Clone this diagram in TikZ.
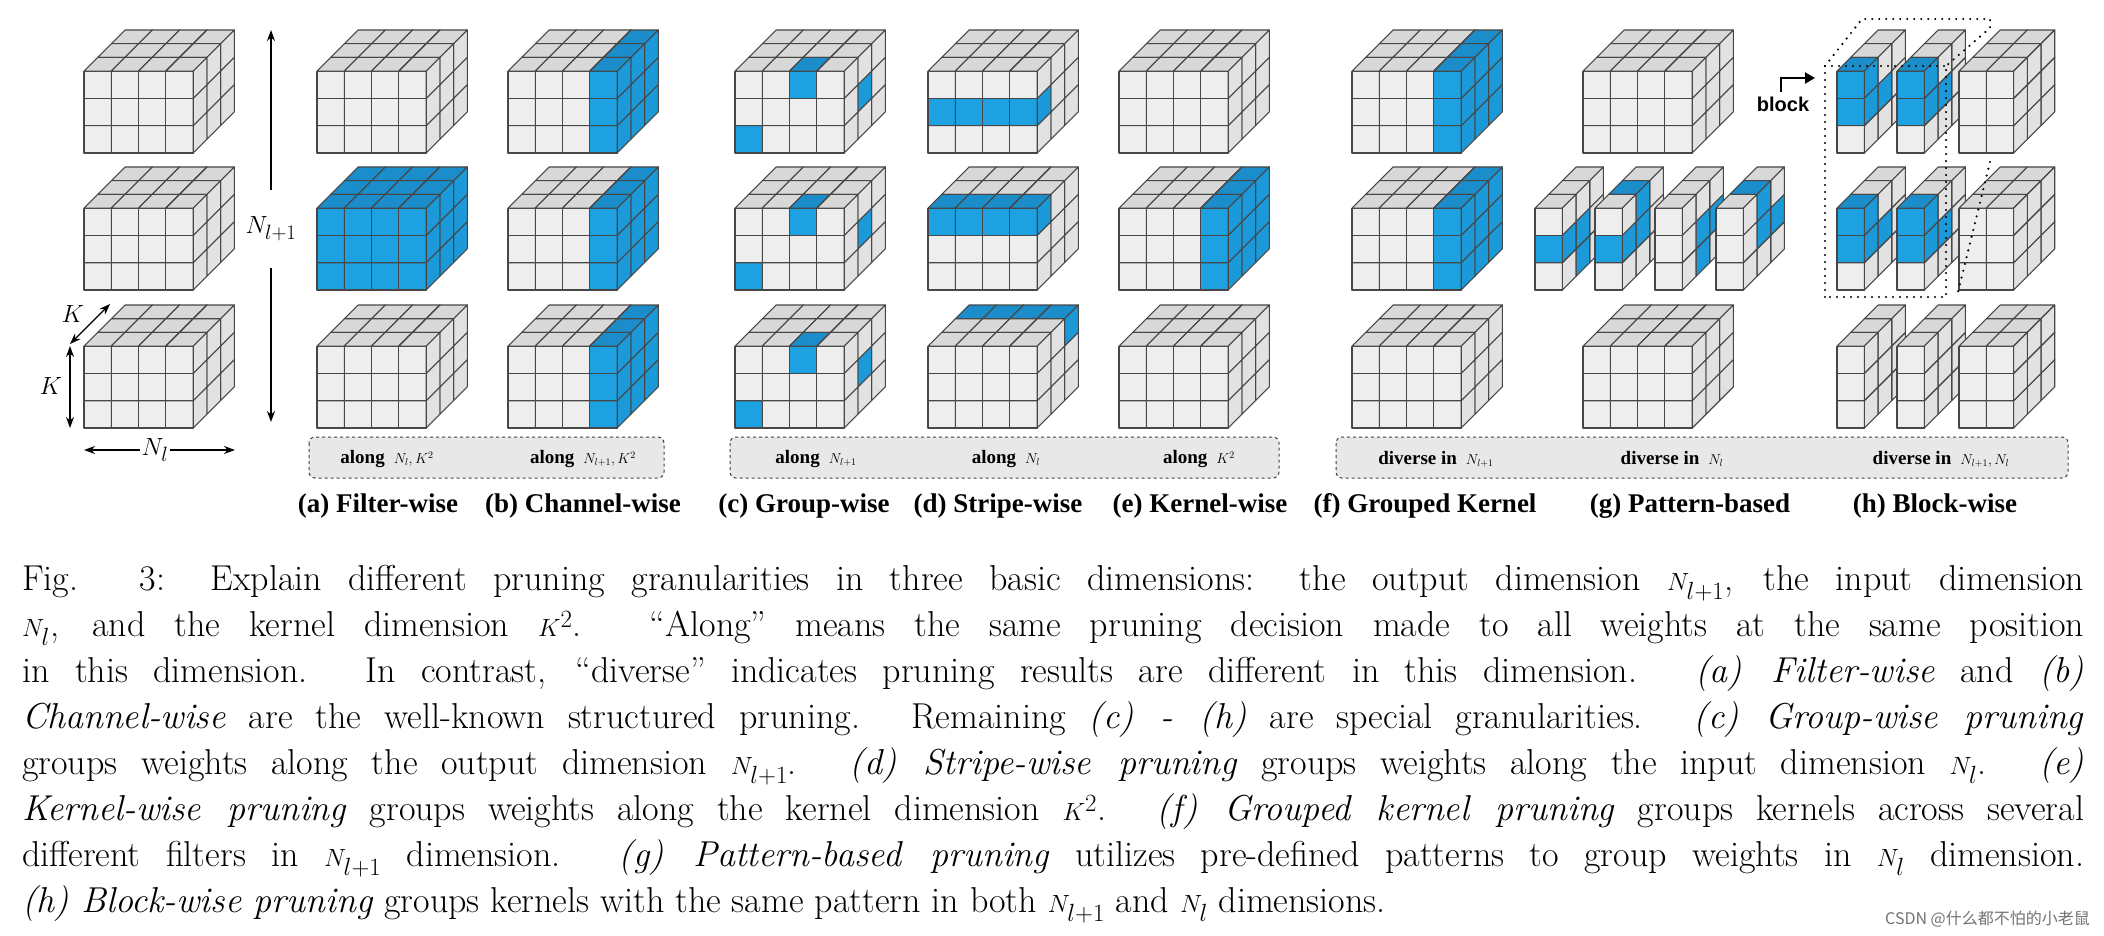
\documentclass[tikz,border=0pt]{standalone}
\usepackage{fontspec}
\usetikzlibrary{arrows.meta}
\newfontfamily\tms{Liberation Serif}
\newfontfamily\arl{Liberation Sans}
\newfontfamily\cjk{Noto Sans CJK SC}
\definecolor{gf}{HTML}{EEEEEE}
\definecolor{gt}{HTML}{D8D8D8}
\definecolor{gs}{HTML}{E2E2E2}
\definecolor{bf}{HTML}{1DA1E0}
\definecolor{bt}{HTML}{1A8DCA}
\definecolor{bs}{HTML}{1B99D8}
\definecolor{boxfill}{HTML}{E8E8E8}
\def\vs{27.3}\def\vd{13.7}
\makeatletter
\newcommand\voxbox[4]{%
 \foreach \kk in {2,1,0}{%
  \foreach \jj in {0,1,2}{%
   \foreach \ii in {0,...,#3}{%
     \edef\vtmp{\noexpand\in@{,\ii/\jj/\kk,}{,#4,}}\vtmp
     \ifin@\def\vb{1}\else
       \edef\vtmp{\noexpand\in@{,c\ii,}{,#4,}}\vtmp
       \ifin@\def\vb{1}\else
         \in@{,all,}{,#4,}\ifin@\def\vb{1}\else\def\vb{0}\fi
       \fi
     \fi
     \ifnum\vb=1 \def\cf{bf}\def\ct{bt}\def\cs{bs}\else\def\cf{gf}\def\ct{gt}\def\cs{gs}\fi
     \pgfmathsetmacro\X{#1+\ii*\vs+\kk*\vd}%
     \pgfmathsetmacro\Y{#2-\jj*\vs-\kk*\vd}%
     \filldraw[vx,fill=\cf] (\X,\Y) rectangle ++(\vs,-\vs);
     \filldraw[vx,fill=\ct] (\X,\Y-\vs) -- ++(\vs,0) -- ++(\vd,-\vd) -- ++(-\vs,0) -- cycle;
     \filldraw[vx,fill=\cs] (\X+\vs,\Y) -- ++(\vd,-\vd) -- ++(0,-\vs) -- ++(-\vd,\vd) -- cycle;
   }}}}
\makeatother
\tikzset{
 vx/.style={draw=black!72,line width=1.1pt,line join=round},
 arr/.style={-{Stealth[length=11pt,width=8pt]},line width=1.3pt},
 arrb/.style={{Stealth[length=11pt,width=8pt]}-{Stealth[length=11pt,width=8pt]},line width=1.3pt},
 dbox/.style={draw=black!75,dashed,line width=1pt,rounded corners=6pt,fill=boxfill},
 capt/.style={font=\tms\bfseries\fontsize{27}{30}\selectfont,inner sep=0},
 blab/.style={font=\tms\bfseries\fontsize{19}{22}\selectfont,inner sep=0},
 dotl/.style={line width=2.4pt,dash pattern=on 0pt off 7pt,line cap=round}
}
\begin{document}
\begin{tikzpicture}[x=1pt,y=-1pt]
\useasboundingbox[fill=white] (0,0) rectangle (2104,936);
% base
\foreach \yy in {153,290,428}{\voxbox{84}{\yy}{3}{none}}
% a
\voxbox{317}{153}{3}{none}\voxbox{317}{290}{3}{all}\voxbox{317}{428}{3}{none}
% b
\foreach \yy in {153,290,428}{\voxbox{508}{\yy}{3}{c3}}
% c
\foreach \yy in {153,290,428}{\voxbox{735}{\yy}{3}{2/2/0,3/1/1,0/0/0}}
% d
\voxbox{928}{153}{3}{0/1/0,1/1/0,2/1/0,3/1/0}
\voxbox{928}{290}{3}{0/2/0,1/2/0,2/2/0,3/2/0}
\voxbox{928}{428}{3}{0/2/2,1/2/2,2/2/2,3/2/2}
% e
\voxbox{1119}{153}{3}{none}\voxbox{1119}{290}{3}{c3}\voxbox{1119}{428}{3}{none}
% f
\voxbox{1352}{153}{3}{c3}\voxbox{1352}{290}{3}{c3}\voxbox{1352}{428}{3}{none}
% g
\voxbox{1583}{153}{3}{none}\voxbox{1583}{428}{3}{none}
\voxbox{1535}{290}{0}{0/1/0,0/1/1,0/0/1}
\voxbox{1595}{290}{0}{0/1/0,0/1/1,0/2/1}
\voxbox{1655}{290}{0}{0/0/1,0/1/1,0/1/2}
\voxbox{1716}{290}{0}{0/2/1,0/1/1,0/1/2}
% h
\foreach \yy in {153,290}{\voxbox{1837}{\yy}{0}{0/1/0,0/2/0,0/1/1}\voxbox{1897}{\yy}{0}{0/1/0,0/2/0,0/1/1}\voxbox{1959}{\yy}{1}{none}}
\voxbox{1837}{428}{0}{none}\voxbox{1897}{428}{0}{none}\voxbox{1959}{428}{1}{none}
% block outline
\draw[dotl] (1825,297) -- (1825,66) -- (1862,19) -- (1990,19) -- (1990,28) -- (1946,66) -- (1946,297) -- cycle;
\draw[dotl] (1825,66) -- (1946,66);
\draw[dotl] (1990,162) -- (1958,292);
\node[font=\arl\bfseries\fontsize{20}{22}\selectfont,inner sep=1pt] (blk) at (1783,104) {block};
\coordinate (bk1) at (1781,92);
\coordinate (bk2) at (1815,78);
\draw[-{Triangle[length=10pt,width=11pt]},line width=2pt] (bk1) |- (bk2);
% axes
\node[font=\fontsize{28}{30}\selectfont,minimum height=78pt,inner sep=0] (nl1) at (271,229) {$N_{l+1}$};
\coordinate (nt) at (271,30); \coordinate (nb) at (271,422);
\draw[arr] (nl1) -- (nt); \draw[arr] (nl1) -- (nb);
\coordinate (kd1) at (70,344); \coordinate (kd2) at (110,304);
\draw[arrb] (kd1) -- (kd2);
\node[font=\fontsize{26}{28}\selectfont] (kdl) at (73,314) {$K$};
\coordinate (kv1) at (70,346); \coordinate (kv2) at (70,428);
\draw[arrb] (kv1) -- (kv2);
\node[font=\fontsize{26}{28}\selectfont] (kvl) at (51,386) {$K$};
\node[font=\fontsize{28}{30}\selectfont,inner sep=2pt] (nll) at (155,450) {$N_l$};
\coordinate (nl0) at (84,450); \coordinate (nl2) at (235,450);
\draw[arr] (nll) -- (nl0); \draw[arr] (nll) -- (nl2);
% dashed boxes
\draw[dbox] (309,437) rectangle (664,478);
\draw[dbox] (730,437) rectangle (1279,478);
\draw[dbox] (1336,437) rectangle (2068,478);
\node[blab] (t1) at (387,459) {along\hspace{9pt}\fontsize{14}{14}\selectfont$N_l, K^2$};
\node[blab] (t2) at (583,459) {along\hspace{9pt}\fontsize{14}{14}\selectfont$N_{l+1}, K^2$};
\node[blab] (t3) at (816,459) {along\hspace{9pt}\fontsize{14}{14}\selectfont$N_{l+1}$};
\node[blab] (t4) at (1006,459) {along\hspace{9pt}\fontsize{14}{14}\selectfont$N_l$};
\node[blab] (t5) at (1199,459) {along\hspace{9pt}\fontsize{14}{14}\selectfont$K^2$};
\node[blab] (t6) at (1436,459) {diverse in\hspace{9pt}\fontsize{14}{14}\selectfont$N_{l+1}$};
\node[blab] (t7) at (1672,459) {diverse in\hspace{9pt}\fontsize{14}{14}\selectfont$N_l$};
\node[blab] (t8) at (1941,459) {diverse in\hspace{9pt}\fontsize{14}{14}\selectfont$N_{l+1}, N_l$};
% captions
\node[capt] (ca) at (378,506) {(a) Filter-wise};
\node[capt] (cb) at (583,506) {(b) Channel-wise};
\node[capt] (cc) at (804,506) {(c) Group-wise};
\node[capt] (cd) at (998,506) {(d) Stripe-wise};
\node[capt] (ce) at (1200,506) {(e) Kernel-wise};
\node[capt] (cf) at (1425,506) {(f) Grouped Kernel};
\node[capt] (cg) at (1690,506) {(g) Pattern-based};
\node[capt] (ch) at (1935,506) {(h) Block-wise};
% paragraph
\node[anchor=north west,inner sep=0,text width=2062pt,align=justify,font=\fontsize{36}{46}\selectfont] (para) at (22,565) {Fig. 3: Explain different pruning granularities in three basic dimensions: the output dimension $N_{l+1}$, the input dimension\linebreak
$N_l$, and the kernel dimension $K^2$. ``Along'' means the same pruning decision made to all weights at the same position\linebreak
in this dimension. In contrast, ``diverse'' indicates pruning results are different in this dimension. \textit{(a) Filter-wise} and \textit{(b)}\linebreak
\textit{Channel-wise} are the well-known structured pruning. Remaining \textit{(c) - (h)} are special granularities. \textit{(c) Group-wise pruning}\linebreak
groups weights along the output dimension $N_{l+1}$. \textit{(d) Stripe-wise pruning} groups weights along the input dimension $N_l$. \textit{(e)}\linebreak
\textit{Kernel-wise pruning} groups weights along the kernel dimension $K^2$. \textit{(f) Grouped kernel pruning} groups kernels across several\linebreak
different filters in $N_{l+1}$ dimension. \textit{(g) Pattern-based pruning} utilizes pre-defined patterns to group weights in $N_l$ dimension.\linebreak
\textit{(h) Block-wise pruning} groups kernels with the same pattern in both $N_{l+1}$ and $N_l$ dimensions.};
\node[font=\cjk\fontsize{16}{18}\selectfont,text=black!55,anchor=east,inner sep=0] (wm) at (2090,919) {CSDN @什么都不怕的小老鼠};
\end{tikzpicture}
\end{document}
